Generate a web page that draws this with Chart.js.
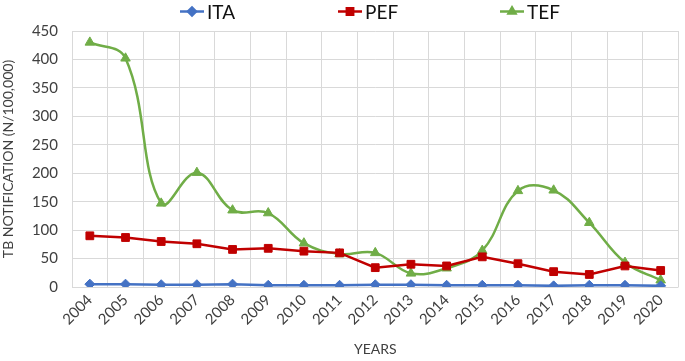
<!DOCTYPE html>
<html><head><meta charset="utf-8">
<script src="https://cdn.jsdelivr.net/npm/chart.js@4/dist/chart.umd.min.js"></script>
<style>html,body{margin:0;padding:0;background:#fff;}#wrap{width:685px;height:361px;}</style>
</head><body><div id="wrap"><canvas id="c" width="685" height="361"></canvas></div>
<script>
const years = ['2004','2005','2006','2007','2008','2009','2010','2011','2012','2013','2014','2015','2016','2017','2018','2019','2020'];
const ita = [5,5,4,4,5,3,3,3,4,4,3,3,3,2,3,3,2];
const pef = [90,87,80,76,66,68,63,60,34,40,37,53,41,27,22,37,29];
const tef = [430,402,147,201,135,130,77,58,60,24,33,64,169,170,113,43,12];
const yTicks = [0,50,100,150,200,250,300,350,400,450];

const FONT = "Lato, 'Liberation Sans', Arial, sans-serif";
const legendPlugin = {
  id: 'xlLegend',
  afterDraw(chart) {
    const ctx = chart.ctx;
    const xs = [180, 338, 500];
    const y = 11.5;
    ctx.save();
    chart.data.datasets.forEach((ds, i) => {
      const x = xs[i];
      const c = ds.borderColor;
      ctx.strokeStyle = c; ctx.fillStyle = c; ctx.lineWidth = 2.5;
      ctx.beginPath(); ctx.moveTo(x, y); ctx.lineTo(x + 24, y); ctx.stroke();
      Chart.helpers.drawPoint(ctx, {pointStyle: ds.pointStyle, radius: ds.pointStyle === 'rect' ? 4.5 : 4, borderWidth: 1}, x + 12, y);
      ctx.fillStyle = '#111';
      ctx.font = '19px ' + FONT;
      ctx.textBaseline = 'middle';
      ctx.textAlign = 'left';
      ctx.fillText(ds.label, x + 27, y + 1);
    });
    ctx.restore();
  }
};

new Chart(document.getElementById('c'), {
  type: 'line',
  data: {
    labels: years,
    datasets: [
      {label:'ITA', data: ita, borderColor:'#4472C4', backgroundColor:'#4472C4', pointStyle:'rectRot', pointRadius:5, pointBorderWidth:1, borderWidth:2.5, tension:0},
      {label:'PEF', data: pef, borderColor:'#C00000', backgroundColor:'#C00000', pointStyle:'rect', pointRadius:5.5, pointBorderWidth:1, borderWidth:2.5, tension:0},
      {label:'TEF', data: tef, borderColor:'#70AD47', backgroundColor:'#70AD47', pointStyle:'triangle', pointRadius:5.5, pointBorderWidth:1, borderWidth:2.5, tension:0.4}
    ]
  },
  options: {
    responsive:false, animation:false, devicePixelRatio:1,
    layout:{padding:{top:31,right:2,left:0,bottom:0}},
    plugins:{legend:{display:false}, tooltip:{enabled:false}},
    scales:{
      x:{
        offset:true,
        grid:{offset:true, color:'#d9d9d9', lineWidth:1, drawTicks:false},
        border:{display:false},
        ticks:{color:'#404040', font:{family:FONT, size:15}, maxRotation:45, minRotation:45, autoSkip:false, padding:4},
        title:{display:true, text:'YEARS', color:'#404040', font:{family:FONT, size:14}, padding:{top:0,bottom:3}},
        afterFit(s){ s.height = 74; }
      },
      y:{
        min:0, max:450,
        afterBuildTicks(s){ s.ticks = yTicks.map(v=>({value:v})); },
        grid:{color:'#d9d9d9', lineWidth:1, drawTicks:false},
        border:{display:false},
        ticks:{color:'#404040', font:{family:FONT, size:15}, padding:14},
        title:{display:true, text:'TB NOTIFICATION (N/100,000)', color:'#404040', font:{family:FONT, size:14}, padding:{top:0,bottom:0}},
        afterFit(s){ s.width = 72; }
      }
    }
  },
  plugins:[legendPlugin]
});
</script></body></html>
